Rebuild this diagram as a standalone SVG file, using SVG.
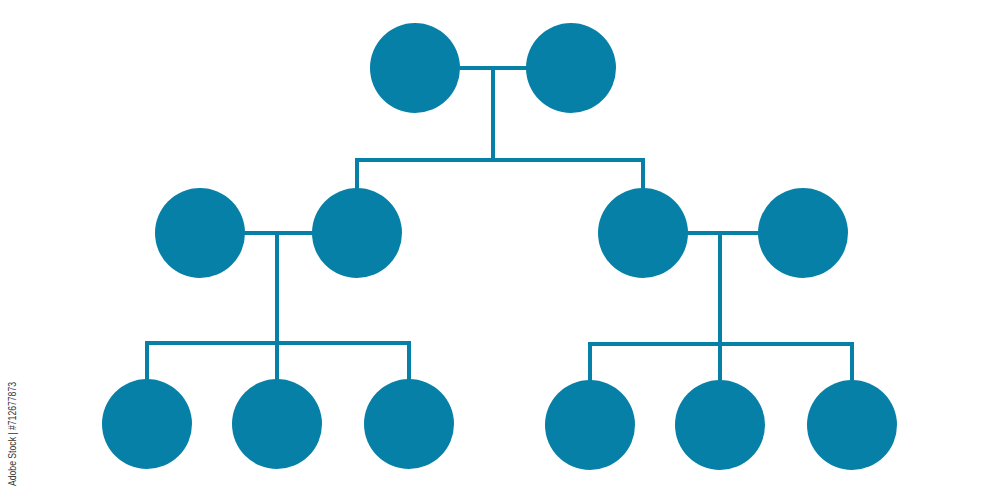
<svg xmlns="http://www.w3.org/2000/svg" width="1000" height="495" viewBox="0 0 1000 495">
<style>
.n{fill:#0780a7}
.c{fill:none;stroke:#0780a7;stroke-width:4;stroke-linecap:square}
.wm{font-family:"Liberation Sans",Arial,sans-serif;font-size:10px;fill:#333}
</style>
<rect width="1000" height="495" fill="#fff"/>
<g id="connectors" class="c">
<path d="M415 68H571M493 68V160M357 160H643M357 160V190M643 160V190"/>
<path d="M200 233H357M277 233V343M147 343H409M147 343V382M277 343V382M409 343V382"/>
<path d="M643 233H803M720 233V344M590 344H852M590 344V382M720 344V382M852 344V382"/>
</g>
<g id="n1"><circle class="n" cx="415" cy="68" r="45"/></g>
<g id="n2"><circle class="n" cx="571" cy="68" r="45"/></g>
<g id="n3"><circle class="n" cx="200" cy="233" r="45"/></g>
<g id="n4"><circle class="n" cx="357" cy="233" r="45"/></g>
<g id="n5"><circle class="n" cx="643" cy="233" r="45"/></g>
<g id="n6"><circle class="n" cx="803" cy="233" r="45"/></g>
<g id="n7"><circle class="n" cx="147" cy="424" r="45"/></g>
<g id="n8"><circle class="n" cx="277" cy="424" r="45"/></g>
<g id="n9"><circle class="n" cx="409" cy="424" r="45"/></g>
<g id="n10"><circle class="n" cx="590" cy="425" r="45"/></g>
<g id="n11"><circle class="n" cx="720" cy="425" r="45"/></g>
<g id="n12"><circle class="n" cx="852" cy="425" r="45"/></g>
<text class="wm" x="0" y="0" transform="translate(16 434) rotate(-90)" text-anchor="middle" textLength="104" lengthAdjust="spacingAndGlyphs">Adobe Stock | #712677873</text>
</svg>
